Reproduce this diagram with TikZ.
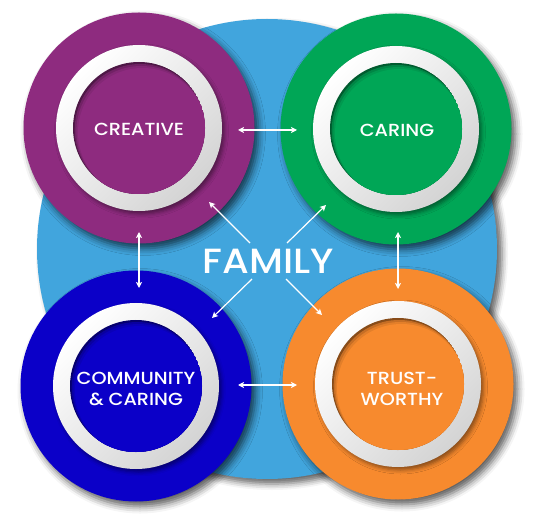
\documentclass[tikz,border=0pt]{standalone}
\usepackage{fontspec}
\setmainfont{Poppins}
\newfontfamily\labelfont{Poppins Medium}[FakeStretch=1.1]
\usetikzlibrary{arrows.meta,shadows.blur,calc}
\definecolor{bgblue}{HTML}{41A5DD}
\definecolor{cpurple}{HTML}{8E2B7F}
\definecolor{cgreen}{HTML}{00A656}
\definecolor{cblue}{HTML}{0B00C8}
\definecolor{corange}{HTML}{F78A2E}
\newcommand\drawring[2]{%
  \path[blur shadow={shadow xshift=2.5pt, shadow yshift=-3pt, shadow blur radius=4pt, shadow opacity=45}, top color=white, bottom color=black!17, shading angle=45] (#1.center) circle (83pt);
  \begin{scope}
    \clip (#1.center) circle (66pt);
    \fill[#2!55!black] (#1.center) circle (66pt);
    \fill[#2!80!black] ($(#1.center)+(1.2,1.5)$) circle (65.5pt);
    \fill[#2!92!black] ($(#1.center)+(2.4,3)$) circle (65pt);
    \fill[#2] ($(#1.center)+(3.5,4.5)$) circle (64.5pt);
  \end{scope}
}
\begin{document}
\begin{tikzpicture}[x=1pt,y=-1pt,
  disk/.style={circle, inner sep=0pt, minimum size=231pt,
    blur shadow={shadow xshift=4pt, shadow yshift=-5pt, shadow blur radius=7pt, shadow opacity=65}},
  lbl/.style={text=white, font=\labelfont\fontsize{17.5}{21}\selectfont, align=center, inner sep=0pt},
  link/.style={white, line width=1.2pt, {Stealth[length=6pt,width=6pt,inset=1.5pt]}-{Stealth[length=6pt,width=6pt,inset=1.5pt]}},
  ray/.style={white, line width=1.2pt, -{Stealth[length=6pt,width=6pt,inset=1.5pt]}}]
\useasboundingbox (0,0) rectangle (535,526);
\node[circle, inner sep=0pt, minimum size=460pt, fill=bgblue,
  blur shadow={shadow xshift=5pt, shadow yshift=-5pt, shadow blur radius=6pt, shadow opacity=60}] (bg) at (267,249) {};
\node[disk, fill=cpurple] (cre) at (139,128) {};
\node[disk, fill=cgreen] (car) at (396,129) {};
\node[disk, fill=cblue] (com) at (136,386) {};
\node[disk, fill=corange] (tru) at (398,384) {};
\drawring{cre}{cpurple}
\drawring{car}{cgreen}
\drawring{com}{cblue}
\drawring{tru}{corange}
\node[lbl] (creT) at (139,129.5) {CREATIVE};
\node[lbl] (carT) at (397,130.5) {CARING};
\node[lbl] (comT) at (136,389) {COMMUNITY\\\& CARING};
\node[lbl] (truT) at (402,389) {TRUST-\\WORTHY};
\node[text=white, font=\labelfont\fontsize{35}{40}\selectfont, inner sep=0pt] (fam) at (268,261) {FAMILY};
\coordinate (h1a) at (238,130); \coordinate (h1b) at (297,130);
\coordinate (h2a) at (238,385); \coordinate (h2b) at (297,385);
\coordinate (v1a) at (139,232); \coordinate (v1b) at (139,288);
\coordinate (v2a) at (398,232); \coordinate (v2b) at (398,289);
\coordinate (d1a) at (250,243); \coordinate (d1b) at (209,202);
\coordinate (d2a) at (287,243); \coordinate (d2b) at (326,205);
\coordinate (d3a) at (252,279); \coordinate (d3b) at (212,318);
\coordinate (d4a) at (286,279); \coordinate (d4b) at (322,315);
\draw[link] (h1a) -- (h1b);
\draw[link] (h2a) -- (h2b);
\draw[link] (v1a) -- (v1b);
\draw[link] (v2a) -- (v2b);
\draw[ray] (d1a) -- (d1b);
\draw[ray] (d2a) -- (d2b);
\draw[ray] (d3a) -- (d3b);
\draw[ray] (d4a) -- (d4b);
\end{tikzpicture}
\end{document}
